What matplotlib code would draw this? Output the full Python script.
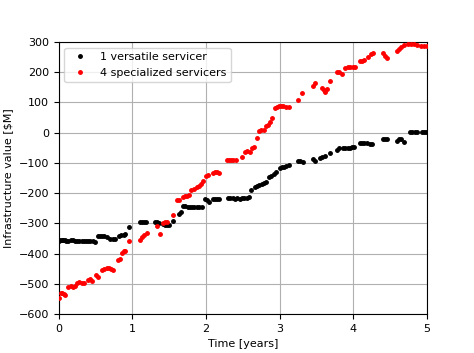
import matplotlib
matplotlib.use("Agg")
import matplotlib.pyplot as plt

# ── data ─────────────────────────────────────────────────────────────────────
versatile_t = [
    0.00, 0.02, 0.04, 0.06, 0.08, 0.10, 0.13, 0.16, 0.19, 0.22,
    0.25, 0.28, 0.31, 0.34, 0.37, 0.40, 0.43, 0.46, 0.49,
    0.53, 0.56, 0.59, 0.62, 0.66, 0.70, 0.73, 0.76,
    0.82, 0.85, 0.88, 0.90, 0.96,
    1.10, 1.13, 1.16, 1.19, 1.30, 1.33, 1.36,
    1.41, 1.44, 1.47, 1.50, 1.55, 1.63, 1.66,
    1.69, 1.72, 1.75, 1.78, 1.81, 1.84, 1.88, 1.91, 1.94,
    1.98, 2.01, 2.04, 2.09, 2.12, 2.15, 2.18,
    2.30, 2.33, 2.36, 2.39, 2.42, 2.46, 2.49, 2.52, 2.55, 2.58,
    2.61, 2.66, 2.69, 2.72, 2.76, 2.79, 2.82, 2.85, 2.88, 2.92, 2.95,
    3.00, 3.03, 3.06, 3.09, 3.12, 3.25, 3.28, 3.32, 3.45, 3.48,
    3.55, 3.58, 3.62, 3.68, 3.78, 3.81, 3.86, 3.89, 3.92, 3.95,
    3.98, 4.01, 4.09, 4.12, 4.15, 4.18, 4.22, 4.25,
    4.40, 4.43, 4.46, 4.59, 4.62, 4.65, 4.68,
    4.77, 4.80, 4.83, 4.86, 4.93, 4.96, 4.99,
]
versatile_v = [
    -358, -356, -355, -355, -356, -357, -357, -356, -356, -357,
    -357, -358, -358, -357, -357, -358, -358, -359, -360,
    -342, -340, -340, -343, -345, -350, -352, -353,
    -340, -338, -337, -336, -312,
    -294, -295, -295, -296, -295, -296, -298,
    -303, -305, -306, -305, -292, -268, -262,
    -243, -243, -244, -244, -245, -246, -247, -246, -245,
    -218, -224, -229, -219, -219, -218, -219,
    -216, -216, -217, -218, -217, -218, -217, -217, -216, -214,
    -188, -178, -176, -174, -168, -166, -163, -148, -142, -135, -130,
    -117, -114, -112, -110, -108, -92, -94, -97, -88, -92,
    -85, -80, -78, -68, -58, -50, -52, -50, -50, -49,
    -48, -48, -33, -33, -33, -34, -36, -37,
    -20, -20, -21, -28, -20, -22, -30,
    3, 4, 4, 4, 3, 3, 4,
]

specialized_t = [
    0.00, 0.03, 0.05, 0.07, 0.09, 0.13, 0.16, 0.19, 0.22,
    0.25, 0.28, 0.31, 0.34, 0.39, 0.42, 0.45, 0.50, 0.53,
    0.59, 0.62, 0.65, 0.68, 0.71, 0.74, 0.80, 0.83, 0.86, 0.88, 0.90, 0.96,
    1.10, 1.13, 1.16, 1.20, 1.33, 1.37, 1.41, 1.44, 1.47, 1.55,
    1.60, 1.63, 1.68, 1.71, 1.74, 1.77, 1.80, 1.83, 1.87, 1.90, 1.93, 1.96,
    2.00, 2.03, 2.09, 2.12, 2.15, 2.18, 2.28, 2.31, 2.34, 2.37, 2.40,
    2.49, 2.53, 2.56, 2.59, 2.62, 2.65, 2.69, 2.72, 2.75, 2.78, 2.81, 2.84,
    2.87, 2.90, 2.93, 2.96, 2.99, 3.02, 3.05, 3.08, 3.12,
    3.25, 3.30, 3.45, 3.48, 3.57, 3.60, 3.62, 3.64, 3.68,
    3.78, 3.81, 3.85, 3.89, 3.92, 3.95, 3.99, 4.02,
    4.09, 4.12, 4.15, 4.20, 4.24, 4.27, 4.40, 4.43, 4.46,
    4.59, 4.62, 4.65, 4.69, 4.74, 4.78, 4.82, 4.86, 4.92, 4.96, 5.00,
]
specialized_v = [
    -548, -530, -530, -532, -535, -510, -508, -510, -507,
    -497, -495, -497, -498, -487, -485, -490, -470, -476,
    -455, -450, -448, -447, -450, -455, -422, -418, -398, -392, -390, -358,
    -355, -345, -338, -330, -310, -336, -297, -295, -296, -272,
    -224, -222, -212, -210, -208, -207, -188, -185, -180, -175, -168, -160,
    -142, -140, -132, -130, -130, -133, -90, -90, -90, -90, -90,
    -80, -65, -62, -63, -50, -48, -17, 5, 8, 10, 22, 25,
    35, 48, 82, 85, 87, 88, 88, 86, 85,
    108, 132, 155, 165, 148, 140, 135, 145, 172,
    200, 200, 195, 215, 216, 216, 218, 218,
    236, 238, 241, 252, 260, 263, 262, 255, 248,
    270, 276, 284, 290, 292, 292, 292, 291, 288, 288, 288,
]

y_ticks = [-600, -500, -400, -300, -200, -100, 0, 100, 200, 300]

# ── plot ─────────────────────────────────────────────────────────────────────
fig = plt.figure(figsize=(4.74, 3.53), dpi=100)
ax = fig.add_axes([0.124, 0.110, 0.777, 0.771])

ax.plot(versatile_t, versatile_v, ".", ms=5, color="black", zorder=3,
        label="1 versatile servicer")
ax.plot(specialized_t, specialized_v, ".", ms=5, color="red", zorder=3,
        label="4 specialized servicers")

ax.set_xlim(0, 5)
ax.set_ylim(-600, 300)
ax.set_yticks(y_ticks)
ax.tick_params(labelsize=8)
ax.grid(True, color="#b0b0b0", linewidth=0.8)
ax.set_axisbelow(True)
ax.set_xlabel("Time [years]", fontsize=8)
ax.set_ylabel("Infrastructure value [$M]", fontsize=8)
ax.legend(loc="upper left", fontsize=8)

fig.savefig("out.png", dpi=100)
